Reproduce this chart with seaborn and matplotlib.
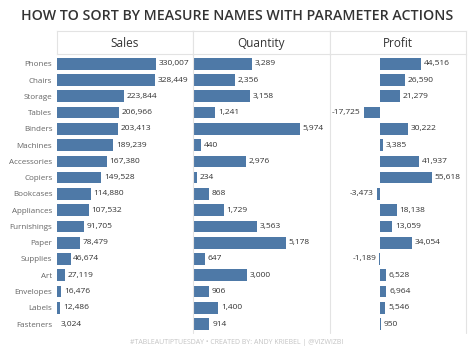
import matplotlib
matplotlib.use("Agg")
import matplotlib.pyplot as plt
import seaborn as sns
from matplotlib.lines import Line2D

categories = [
    "Phones", "Chairs", "Storage", "Tables", "Binders", "Machines",
    "Accessories", "Copiers", "Bookcases", "Appliances", "Furnishings",
    "Paper", "Supplies", "Art", "Envelopes", "Labels", "Fasteners",
]
sales = [330007, 328449, 223844, 206966, 203413, 189239, 167380, 149528,
         114880, 107532, 91705, 78479, 46674, 27119, 16476, 12486, 3024]
quantity = [3289, 2356, 3158, 1241, 5974, 440, 2976, 234,
            868, 1729, 3563, 5178, 647, 3000, 906, 1400, 914]
profit = [44516, 26590, 21279, -17725, 30222, 3385, 41937, 55618,
          -3473, 18138, 13059, 34054, -1189, 6528, 6964, 5546, 950]
measures = ["Sales", "Quantity", "Profit"]

BAR = "#4e79a7"
GRID = "#e3e3e3"
TXT = "#333333"

sns.set_theme(style="white")
plt.rcParams["font.family"] = ["Open Sans", "DejaVu Sans"]

W, H = 474, 355
fig = plt.figure(figsize=(W / 100, H / 100), dpi=100)

# panel edges in pixels
edges = [56.5, 193, 330, 466]
top_hdr, top_body, bottom = 31, 54, 333
xlims = [(0, 455000), (0, 7650), (-53800, 92500)]

for i, (name, vals) in enumerate(zip(measures, [sales, quantity, profit])):
    left = edges[i] / W
    width = (edges[i + 1] - edges[i]) / W
    ax = fig.add_axes([left, 1 - bottom / H, width, (bottom - top_body) / H])
    sns.barplot(x=vals, y=categories, orient="h", color=BAR, width=0.72,
                saturation=1, linewidth=0, ax=ax)
    ax.set_xlim(*xlims[i])
    ax.set_ylim(16.55, -0.6)
    ax.bar_label(ax.containers[0], labels=[f"{v:,}" for v in vals],
                 padding=2, fontsize=6, color=TXT)
    ax.set_xticks([])
    ax.set_xlabel("")
    ax.set_ylabel("")
    for s in ax.spines.values():
        s.set_visible(False)
    if i == 0:
        ax.tick_params(axis="y", length=0, pad=3, labelsize=5.8, labelcolor="#666666")
    else:
        ax.set_yticks([])
    ax.patch.set_alpha(0)

    # header cell
    hx = fig.add_axes([left, 1 - top_body / H, width, (top_body - top_hdr) / H])
    hx.set_xticks([])
    hx.set_yticks([])
    for s in hx.spines.values():
        s.set_color(GRID)
        s.set_linewidth(0.8)
    hx.text(0.5, 0.45, name, ha="center", va="center", fontsize=8.5,
            color=TXT, transform=hx.transAxes)

# vertical separators through the body
for x in edges[1:]:
    fig.add_artist(Line2D([x / W, x / W], [1 - bottom / H, 1 - top_body / H],
                          color=GRID, lw=0.8, transform=fig.transFigure))

fig.text(0.5, 1 - 16 / H, "HOW TO SORT BY MEASURE NAMES WITH PARAMETER ACTIONS",
         ha="center", va="center", fontsize=10.2, fontweight="semibold", color=TXT)
fig.text(237 / W, 1 - 343 / H,
         "#TABLEAUTIPTUESDAY \u2022 CREATED BY: ANDY KRIEBEL | @VIZWIZBI",
         ha="center", va="center", fontsize=5, color="#c4c4c4")

fig.savefig("out.png", dpi=100)
